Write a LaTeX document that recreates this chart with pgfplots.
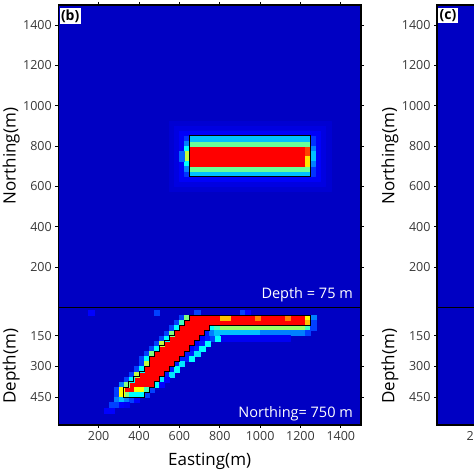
\documentclass[border=0pt]{standalone}
\usepackage{pgfplots}
\pgfplotsset{compat=1.18}
\usepackage{fontspec}
\setmainfont{Open Sans}
\definecolor{bgblue}{RGB}{0,0,195}
\definecolor{ticklab}{RGB}{55,55,55}
\pgfplotsset{
  cmjet/.style={colormap={cm}{rgb255=(0,0,195) rgb255=(0,0,255) rgb255=(0,128,255) rgb255=(0,255,255) rgb255=(128,255,128) rgb255=(255,255,0) rgb255=(255,128,0) rgb255=(255,0,0)}, point meta min=0, point meta max=7},
  panel/.style={scale only axis, width=302.7pt, xmin=0, xmax=1500, set layers,
    axis background/.style={fill=bgblue},
    tick align=outside, major tick length=3pt,
    tick style={black, line width=0.8pt},
    axis line style={line width=1.2pt},
    ticklabel style={font=\fontsize{12.5}{14}\selectfont, text=ticklab},
    /pgf/number format/assume math mode=true,
    /pgf/number format/1000 sep={},
    label style={font=\fontsize{17}{19}\selectfont},
    ylabel style={at={(axis description cs:0,0.5)}, anchor=center, yshift=47pt},
    ytick pos=both, yticklabel pos=left, cmjet,
    xtick={200,400,...,1400}},
  cells/.style={patch, patch type=rectangle, shader=flat, point meta=explicit},
  dots/.style={scatter, only marks, mark=square*, mark size=2.55pt, point meta=explicit,
    scatter/use mapped color={draw=mapped color, fill=mapped color}, mark options={line width=0.1pt}},
  outline/.style={draw=black, line width=1pt, mark=none, sharp plot, line join=miter, on layer=axis foreground},
}
\tikzset{
  annot/.style={anchor=base east, text=white, inner sep=0pt, font=\fontsize{14.5}{16}\selectfont},
  plabel/.style={anchor=north west, fill=white, inner sep=1.5pt, xshift=1pt, yshift=-3pt, font=\bfseries\fontsize{14}{16}\selectfont},
}
\begin{document}
\begin{tikzpicture}
% ---------------- (b) plan view ----------------
\begin{axis}[panel, at={(58.3pt,166.7pt)}, anchor=south west, height=302.3pt,
  ymin=0, ymax=1500, ytick={200,400,...,1400}, xtick pos=right, xticklabels={},
  ylabel={Northing(m)}]
\addplot[cells] coordinates {
(550,575)[0.25] (1350,575)[0.25] (1350,925)[0.25] (550,925)[0.25]
(575,600)[0.5] (1325,600)[0.5] (1325,900)[0.5] (575,900)[0.5]
(600,625)[0.9] (1300,625)[0.9] (1300,875)[0.9] (600,875)[0.9]
(625,650)[1.4] (1275,650)[1.4] (1275,850)[1.4] (625,850)[1.4]
(650,650)[2.5] (1250,650)[2.5] (1250,675)[2.5] (650,675)[2.5]
(650,675)[3.8] (1250,675)[3.8] (1250,700)[3.8] (650,700)[3.8]
(650,700)[7] (1225,700)[7] (1225,800)[7] (650,800)[7]
(1225,750)[6.5] (1250,750)[6.5] (1250,800)[6.5] (1225,800)[6.5]
(1225,700)[5.2] (1250,700)[5.2] (1250,750)[5.2] (1225,750)[5.2]
(650,800)[3.8] (1250,800)[3.8] (1250,825)[3.8] (650,825)[3.8]
(650,825)[2.5] (1250,825)[2.5] (1250,850)[2.5] (650,850)[2.5]
(625,800)[2] (650,800)[2] (650,825)[2] (625,825)[2]
(625,775)[3] (650,775)[3] (650,800)[3] (625,800)[3]
(625,725)[4.5] (650,725)[4.5] (650,775)[4.5] (625,775)[4.5]
(625,700)[3] (650,700)[3] (650,725)[3] (625,725)[3]
(625,675)[2] (650,675)[2] (650,700)[2] (625,700)[2]
(600,725)[1.8] (625,725)[1.8] (625,775)[1.8] (600,775)[1.8]
(1250,775)[2] (1275,775)[2] (1275,800)[2] (1250,800)[2]
(1250,725)[2.5] (1275,725)[2.5] (1275,775)[2.5] (1250,775)[2.5]
(1250,700)[2] (1275,700)[2] (1275,725)[2] (1250,725)[2]
};
\addplot[outline] coordinates {(650,650) (1250,650) (1250,850) (650,850) (650,650)};
\node[plabel] at (axis description cs:0,1) {(b)};
\node[annot, xshift=-8pt, yshift=8.5pt] at (axis description cs:1,0) {Depth = 75 m};
\end{axis}
% ---------------- (b) section ----------------
\begin{axis}[panel, at={(58.3pt,49pt)}, anchor=south west, height=117.7pt,
  ymin=11.7, ymax=585, y dir=reverse, ytick={150,300,450}, xtick pos=left,
  xlabel={Easting(m)}, ylabel={Depth(m)},
  xlabel style={at={(axis description cs:0.5,0)}, anchor=north, inner sep=0pt, yshift=-28pt}]
\addplot[cells] coordinates {
(650,50)[7] (1250,50)[7] (1250,75)[7] (650,75)[7]
(625,75)[7] (1250,75)[7] (1250,100)[7] (625,100)[7]
(600,100)[7] (750,100)[7] (750,125)[7] (600,125)[7]
(575,125)[7] (725,125)[7] (725,150)[7] (575,150)[7]
(550,150)[7] (700,150)[7] (700,175)[7] (550,175)[7]
(525,175)[7] (675,175)[7] (675,200)[7] (525,200)[7]
(500,200)[7] (650,200)[7] (650,225)[7] (500,225)[7]
(475,225)[7] (625,225)[7] (625,250)[7] (475,250)[7]
(450,250)[7] (600,250)[7] (600,275)[7] (450,275)[7]
(450,275)[7] (575,275)[7] (575,300)[7] (450,300)[7]
(425,300)[7] (550,300)[7] (550,325)[7] (425,325)[7]
(400,325)[7] (525,325)[7] (525,350)[7] (400,350)[7]
(375,350)[7] (500,350)[7] (500,375)[7] (375,375)[7]
(350,375)[7] (475,375)[7] (475,400)[7] (350,400)[7]
(325,400)[7] (375,400)[7] (375,425)[7] (325,425)[7]
(375,400)[5] (425,400)[5] (425,425)[5] (375,425)[5]
(425,400)[3.5] (450,400)[3.5] (450,425)[3.5] (425,425)[3.5]
(325,425)[4] (350,425)[4] (350,450)[4] (325,450)[4]
(350,425)[3] (425,425)[3] (425,450)[3] (350,450)[3]
(750,100)[3] (775,100)[3] (775,125)[3] (750,125)[3]
(775,100)[3.5] (800,100)[3.5] (800,125)[3.5] (775,125)[3.5]
(800,100)[4.2] (1225,100)[4.2] (1225,125)[4.2] (800,125)[4.2]
(1225,100)[3.5] (1250,100)[3.5] (1250,125)[3.5] (1225,125)[3.5]
(725,125)[1.2] (750,125)[1.2] (750,150)[1.2] (725,150)[1.2]
(750,125)[2] (775,125)[2] (775,150)[2] (750,150)[2]
(775,125)[2.5] (1000,125)[2.5] (1000,150)[2.5] (775,150)[2.5]
(1000,125)[2] (1225,125)[2] (1225,150)[2] (1000,150)[2]
(1225,125)[1.5] (1250,125)[1.5] (1250,150)[1.5] (1225,150)[1.5]
(800,150)[0.8] (1150,150)[0.8] (1150,175)[0.8] (800,175)[0.8]
};
\addplot[dots] coordinates {
(162.5,37.5)[1] (487.5,37.5)[1.5] (687.5,37.5)[1.5] (912.5,37.5)[1.5] (937.5,37.5)[1]
(812.5,62.5)[5.5] (837.5,62.5)[5.5] (987.5,62.5)[6] (1137.5,62.5)[6] (1237.5,62.5)[5] (1237.5,87.5)[5.5]
(1262.5,62.5)[2] (1262.5,87.5)[1.5] (1262.5,112.5)[1.5]
(612.5,62.5)[1.5] (637.5,62.5)[4]
(587.5,87.5)[1.5] (612.5,87.5)[3.5]
(562.5,112.5)[1.5] (587.5,112.5)[3]
(537.5,137.5)[1.5] (562.5,137.5)[4]
(512.5,162.5)[1.5] (537.5,162.5)[3]
(487.5,187.5)[1.5] (512.5,187.5)[4.5]
(462.5,212.5)[1.5] (487.5,212.5)[3]
(437.5,237.5)[1.5] (462.5,237.5)[4]
(412.5,262.5)[1.5] (437.5,262.5)[3]
(412.5,287.5)[1.5] (437.5,287.5)[4.5]
(387.5,312.5)[1.5] (412.5,312.5)[3]
(362.5,337.5)[1.5] (387.5,337.5)[4.5]
(337.5,362.5)[1.5] (362.5,362.5)[3]
(312.5,387.5)[2] (337.5,387.5)[4]
(287.5,412.5)[1.5] (312.5,412.5)[5]
(287.5,437.5)[1.5] (312.5,437.5)[5]
(712.5,162.5)[1] (737.5,162.5)[1.2] (762.5,162.5)[1.5] (787.5,162.5)[3]
(687.5,187.5)[1] (712.5,187.5)[1.2] (737.5,187.5)[3]
(662.5,212.5)[1] (687.5,212.5)[1.2] (712.5,212.5)[3]
(637.5,237.5)[1.2] (662.5,237.5)[1.2] (687.5,237.5)[2.8]
(612.5,262.5)[1.2] (637.5,262.5)[1.2] (662.5,262.5)[3]
(587.5,287.5)[1.2] (612.5,287.5)[2.8]
(562.5,312.5)[1.2] (587.5,312.5)[3]
(537.5,337.5)[1.2] (562.5,337.5)[2.8]
(512.5,362.5)[2.8] (537.5,362.5)[1]
(487.5,387.5)[3] (512.5,387.5)[1]
(462.5,412.5)[1.5] (437.5,437.5)[1.5]
(287.5,462.5)[2] (312.5,462.5)[2.5] (337.5,462.5)[2] (362.5,462.5)[1.5] (387.5,462.5)[1]
(262.5,487.5)[1.5] (287.5,487.5)[1.5] (312.5,487.5)[1] (337.5,487.5)[0.8]
(237.5,512.5)[1] (262.5,512.5)[1]
};
\addplot[outline] coordinates {
(650,50) (1250,50) (1250,100) (750,100) (750,125) (725,125) (725,150) (700,150)
(700,175) (675,175) (675,200) (650,200) (650,225) (625,225) (625,250) (600,250)
(600,275) (575,275) (575,300) (550,300) (550,325) (525,325) (525,350) (500,350)
(500,375) (475,375) (475,400) (450,400) (450,425) (425,425) (425,450) (325,450)
(325,400) (350,400) (350,375) (375,375) (375,350) (400,350) (400,325) (425,325)
(425,300) (450,300) (450,250) (475,250) (475,225) (500,225) (500,200) (525,200)
(525,175) (550,175) (550,150) (575,150) (575,125) (600,125) (600,100) (625,100)
(625,75) (650,75) (650,50)};
\node[annot, xshift=-8pt, yshift=7pt] at (axis description cs:1,0) {Northing= 750 m};
\end{axis}
% ---------------- (c) plan view (cut off) ----------------
\begin{axis}[panel, at={(437pt,166.7pt)}, anchor=south west, height=302.3pt,
  ymin=0, ymax=1500, ytick={200,400,...,1400}, xtick pos=right, xtick={200}, xticklabels={},
  ylabel={Northing(m)}]
\node[plabel] at (axis description cs:0,1) {(c)};
\end{axis}
% ---------------- (c) section (cut off) ----------------
\begin{axis}[panel, at={(437pt,49pt)}, anchor=south west, height=117.7pt,
  ymin=11.7, ymax=585, y dir=reverse, ytick={150,300,450}, xtick pos=left, xtick={200},
  ylabel={Depth(m)}]
\end{axis}
\pgfresetboundingbox
\path[use as bounding box] (0,0) rectangle (474pt,474pt);
\end{tikzpicture}
\end{document}
